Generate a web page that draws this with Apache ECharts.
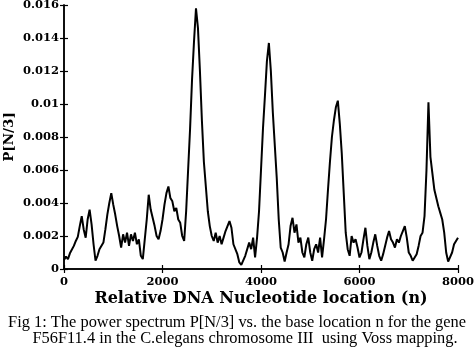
<!DOCTYPE html>
<html>
<head>
<meta charset="utf-8">
<script src="https://cdn.jsdelivr.net/npm/echarts@6/dist/echarts.min.js"></script>
<style>
html,body{margin:0;padding:0;background:#fff;}
#c{width:474px;height:364px;}
</style>
</head>
<body>
<div id="c"></div>
<script>
// Relative DNA nucleotide location n (step 40)
const positions = [
0,40,80,120,160,200,240,280,320,360,400,440,480,520,560,600,640,680,720,760,
800,840,880,920,960,1000,1040,1080,1120,1160,1200,1240,1280,1320,1360,1400,1440,1480,1520,1560,
1600,1640,1680,1720,1760,1800,1840,1880,1920,1960,2000,2040,2080,2120,2160,2200,2240,2280,2320,2360,
2400,2440,2480,2520,2560,2600,2640,2680,2720,2760,2800,2840,2880,2920,2960,3000,3040,3080,3120,3160,
3200,3240,3280,3320,3360,3400,3440,3480,3520,3560,3600,3640,3680,3720,3760,3800,3840,3880,3920,3960,
4000,4040,4080,4120,4160,4200,4240,4280,4320,4360,4400,4440,4480,4520,4560,4600,4640,4680,4720,4760,
4800,4840,4880,4920,4960,5000,5040,5080,5120,5160,5200,5240,5280,5320,5360,5400,5440,5480,5520,5560,
5600,5640,5680,5720,5760,5800,5840,5880,5920,5960,6000,6040,6080,6120,6160,6200,6240,6280,6320,6360,
6400,6440,6480,6520,6560,6600,6640,6680,6720,6760,6800,6840,6880,6920,6960,7000,7040,7080,7120,7160,
7200,7240,7280,7320,7360,7400,7440,7480,7520,7560,7600,7640,7680,7720,7760,7800,7840,7880,7920,7960,
8000
];
// Power spectrum P[N/3]
const power = [
0.00055,0.00075,0.0006,0.00095,0.00105,0.0014,0.0017,0.00195,0.0026,0.0032,0.0024,0.0019,0.003,0.0036,0.0027,0.0015,0.0005,0.0008,0.0012,0.0013,
0.0016,0.0024,0.0033,0.004,0.0046,0.0039,0.0033,0.0026,0.002,0.0013,0.0021,0.0016,0.0022,0.0014,0.0021,0.0017,0.0022,0.0015,0.0018,0.0008,
0.0006,0.0018,0.003,0.0045,0.0036,0.0031,0.0026,0.002,0.0018,0.0023,0.003,0.0039,0.0046,0.005,0.0043,0.0041,0.0035,0.0037,0.003,0.0028,
0.002,0.0017,0.0035,0.006,0.0085,0.0115,0.0138,0.0158,0.0146,0.012,0.009,0.0065,0.005,0.0035,0.0026,0.002,0.0017,0.0022,0.0016,0.002,
0.0015,0.0019,0.0023,0.0026,0.0029,0.0025,0.0015,0.0014,0.0009,0.0004,0.00025,0.0003,0.0008,0.0009,0.0016,0.0012,0.0019,0.0007,0.0019,0.0035,
0.006,0.0085,0.0105,0.0126,0.0137,0.012,0.0095,0.0075,0.0055,0.003,0.0013,0.001,0.00045,0.001,0.0015,0.0026,0.0031,0.0022,0.0027,0.0016,
0.0019,0.001,0.0007,0.0015,0.0019,0.001,0.0005,0.0012,0.0015,0.001,0.0019,0.0007,0.0018,0.003,0.0048,0.0065,0.008,0.009,0.0098,0.0102,
0.0088,0.007,0.0046,0.0022,0.0012,0.0008,0.002,0.0016,0.0018,0.0013,0.0007,0.001,0.0018,0.0025,0.0014,0.0006,0.001,0.0016,0.0021,0.0014,
0.0008,0.0005,0.0009,0.0014,0.0019,0.0023,0.0018,0.0016,0.0013,0.0018,0.0016,0.002,0.0023,0.0026,0.0019,0.001,0.0008,0.0005,0.0006,0.0009,
0.0014,0.002,0.0022,0.0032,0.006,0.0101,0.0068,0.0058,0.0048,0.0043,0.0038,0.0034,0.003,0.0022,0.001,0.00045,0.0005,0.001,0.0015,0.0014,
0.0019
];
const xTicks = [0,2000,4000,6000,8000];
const yTickLabels = ['0','0.002','0.004','0.006','0.008','0.01','0.012','0.014','0.016'];

const data = positions.map((p,i)=>[p,power[i]]);
const tickFont = {fontFamily:'DejaVu Serif', fontWeight:'bold', fontSize:11.5, color:'#000'};
const axisLine = {show:true, lineStyle:{color:'#000', width:1.5}};
const axisTick = {show:true, inside:true, length:4, lineStyle:{color:'#000', width:1.2}};

const chart = echarts.init(document.getElementById('c'), null, {renderer:'canvas'});
chart.setOption({
  animation:false,
  backgroundColor:'#fff',
  grid:{left:64, right:16, top:5, bottom:95, containLabel:false, outerBoundsMode:'none'},
  title:[
    {text:'Fig 1: The power spectrum P[N/3] vs. the base location n for the gene', left:232, top:310, textAlign:'center',
     textStyle:{fontFamily:'Liberation Serif', fontWeight:'normal', fontSize:16.4, color:'#000'}},
    {text:'F56F11.4 in the C.elegans chromosome III  using Voss mapping.', left:240, top:326, textAlign:'center',
     textStyle:{fontFamily:'Liberation Serif', fontWeight:'normal', fontSize:16.4, color:'#000'}}
  ],
  xAxis:[
    {type:'value', min:0, max:8000, interval:2000, position:'bottom',
     name:'Relative DNA Nucleotide location (n)', nameLocation:'middle', nameGap:22, nameMoveOverlap:false,
     nameTextStyle:{fontFamily:'DejaVu Serif', fontWeight:'bold', fontSize:16, color:'#000'},
     axisLine:axisLine, axisTick:axisTick, splitLine:{show:false},
     axisLabel:Object.assign({margin:7, formatter:(v)=> xTicks.includes(v)? String(v):''}, tickFont)},
    {type:'value', min:0, max:8000, interval:2000, position:'top',
     axisLine:axisLine, axisTick:axisTick, splitLine:{show:false}, axisLabel:{show:false}}
  ],
  yAxis:[
    {type:'value', min:0, max:0.016, interval:0.002, position:'left',
     name:'P[N/3]', nameLocation:'middle', nameGap:48, nameRotate:90, nameMoveOverlap:false,
     nameTextStyle:{fontFamily:'DejaVu Serif', fontWeight:'bold', fontSize:13.5, color:'#000'},
     axisLine:axisLine, axisTick:axisTick, splitLine:{show:false},
     axisLabel:Object.assign({margin:5, formatter:(v,i)=> yTickLabels[i]}, tickFont)},
    {type:'value', min:0, max:0.016, interval:0.002, position:'right',
     axisLine:axisLine, axisTick:axisTick, splitLine:{show:false}, axisLabel:{show:false}}
  ],
  series:[{
    type:'line', data:data, showSymbol:false, symbol:'none',
    lineStyle:{color:'#000', width:2}, xAxisIndex:0, yAxisIndex:0
  }]
});
</script>
</body>
</html>
